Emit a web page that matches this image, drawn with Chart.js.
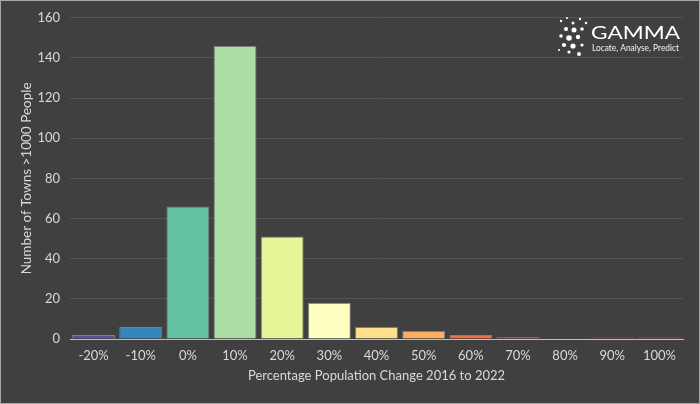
<!DOCTYPE html>
<html><head><meta charset="utf-8">
<script src="https://cdn.jsdelivr.net/npm/chart.js@4.4.1/dist/chart.umd.min.js"></script>
<style>html,body{margin:0;padding:0;background:#404040;}canvas{display:block;}</style>
</head><body>
<canvas id="c" width="700" height="404"></canvas>
<script>
const categories = ['-20%','-10%','0%','10%','20%','30%','40%','50%','60%','70%','80%','90%','100%'];
const towns = [2, 6, 66, 146, 51, 18, 6, 4, 2, 1, 0, 0.8, 0.8];
const barColors = ['#5e4fa2','#3288bd','#66c2a5','#abdda4','#e6f598','#ffffbf','#fee08b','#fdae61','#f46d43','#d53e4f','#b2182b','#c2185b','#c51b7d'];
const yTitle = 'Number of Towns >1000 People';
const xTitle = 'Percentage Population Change 2016 to 2022';
const FONT = 'Lato, "Open Sans", sans-serif';
const txt = '#d9d9d9';

function fitText(c, s, x, y, w) {
  const m = c.measureText(s).width;
  c.save();
  c.translate(x, y);
  c.scale(w / m, 1);
  c.fillText(s, 0, 0);
  c.restore();
}

const frame = {
  id: 'frame',
  beforeDraw(chart) {
    const c = chart.ctx;
    c.save();
    c.fillStyle = '#404040';
    c.fillRect(0, 0, chart.width, chart.height);
    c.restore();
  },
  afterDraw(chart) {
    const c = chart.ctx;
    c.save();
    c.strokeStyle = '#a6a6a6';
    c.lineWidth = 1;
    c.strokeRect(0.5, 0.5, chart.width - 1, chart.height - 1);
    // logo
    c.fillStyle = '#ffffff';
    const dots = [[561,21,1.2],[567,18,1],[573,23,1.5],[580,19,1.2],[586,23,1.3],[566,29,2.1],[574,30,2.5],[582,29,1.8],[561,36,1.8],[569,38,2.8],[578,37,2.2],[564,45,2.1],[573,46,2.6],[582,45,1.6],[559,50,1.1],[569,52,1.6],[579,54,2]];
    dots.forEach(d => { c.beginPath(); c.arc(d[0], d[1], d[2], 0, Math.PI*2); c.fill(); });
    c.font = '18px ' + FONT;
    c.textBaseline = 'alphabetic';
    fitText(c, 'GAMMA', 591, 39, 89);
    c.font = '9px ' + FONT;
    c.fillStyle = '#f2f2f2';
    fitText(c, 'Locate, Analyse, Predict', 592, 51, 87);
    c.restore();
  }
};

new Chart(document.getElementById('c'), {
  type: 'bar',
  data: {
    labels: categories,
    datasets: [{
      data: towns,
      backgroundColor: barColors,
      borderColor: '#7f7f7f',
      borderWidth: 1,
      barPercentage: 0.91,
      categoryPercentage: 1.0
    }]
  },
  options: {
    responsive: false,
    animation: false,
    devicePixelRatio: 1,
    layout: { padding: { top: 17, right: 17, bottom: 20, left: 19 } },
    plugins: { legend: { display: false }, tooltip: { enabled: false } },
    scales: {
      x: {
        grid: { display: false, drawTicks: false },
        border: { color: '#bfbfbf', width: 1 },
        ticks: { color: txt, font: { family: FONT, size: 13 }, padding: 9, maxRotation: 0 },
        title: { display: true, text: xTitle, color: txt, font: { family: FONT, size: 13 }, padding: { top: 4, bottom: 0 } },
        afterFit(s) { s.height = 45; }
      },
      y: {
        min: 0, max: 160,
        ticks: { stepSize: 20, color: txt, font: { family: FONT, size: 13 }, padding: 10 },
        grid: { color: '#555555', lineWidth: 1, drawTicks: false },
        border: { display: false },
        title: { display: true, text: yTitle, color: txt, font: { family: FONT, size: 13.5 }, padding: { top: 0, bottom: 0 } },
        afterFit(s) { s.width = 51; }
      }
    }
  },
  plugins: [frame]
});
</script>
</body></html>
